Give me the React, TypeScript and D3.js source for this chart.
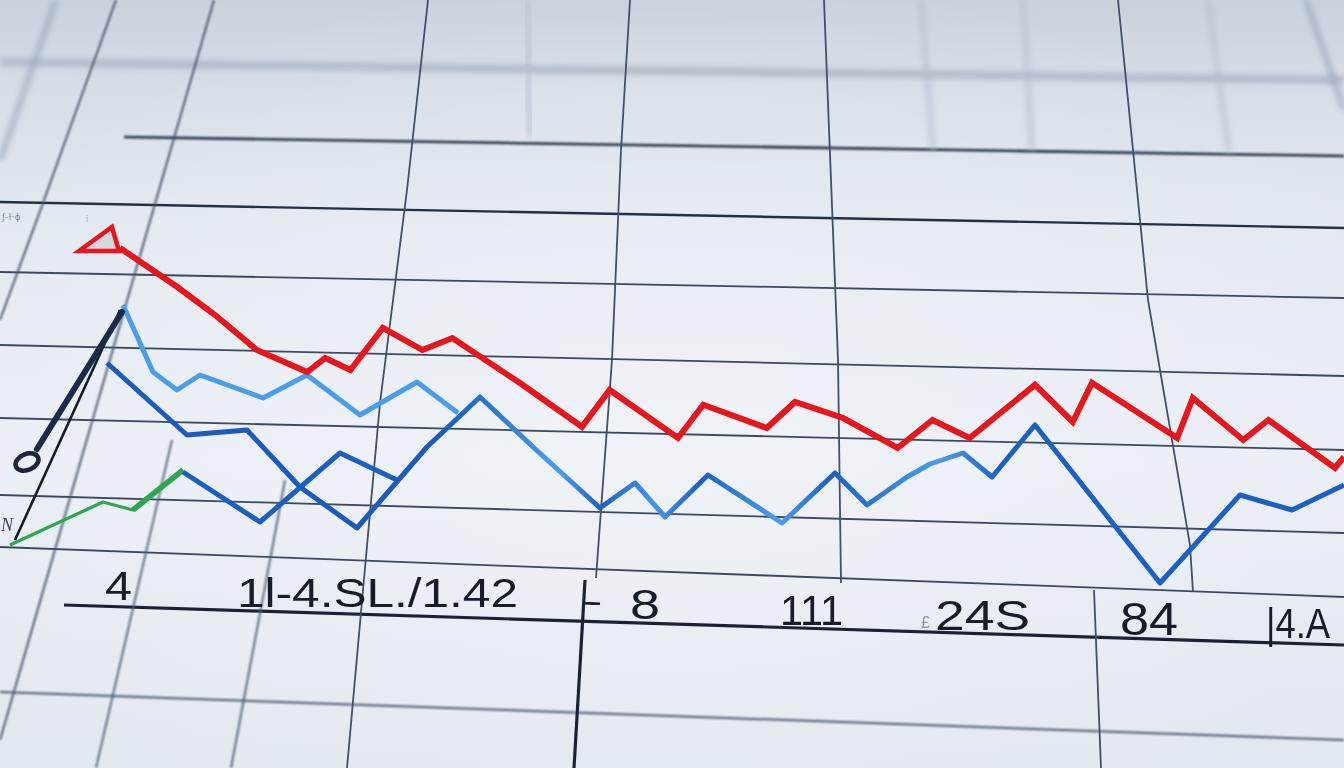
import React from "react";
import * as d3 from "d3";

// ---------- data (time index t, value v) ----------
const redT = [10, 14.75, 17.9, 21.4, 25.6, 27.1, 29.2, 31.9, 35.2, 37.7, 43.3, 48.5, 50.8, 56.5, 58.6, 63.9, 66.25, 70.25, 74.8, 77.7, 80.8, 86.25, 89.4, 91, 98.1, 99.4, 103.6, 105.7, 111.25, 112];
const redV = [88, 78.3, 71.3, 62.5, 57, 60.5, 57.5, 68, 62.5, 65.5, 54.3, 43.3, 52.5, 40.5, 48.8, 43, 49.5, 45.5, 38, 45, 40.5, 53.8, 44.5, 54.3, 40.5, 50.5, 40, 45, 33, 35.8];

const blueAT = [8.92, 15.58, 20.58, 25, 29.75, 35.58, 40, 44.42, 50, 52.92, 55.42, 59, 65.17, 69.58, 72.25, 75.58, 77.5, 80.25, 82.67, 86.25, 96.67, 103.33, 107.67, 112];
const blueAV = [59.25, 41.25, 42.5, 28.25, 18, 38.25, 50.75, 38.25, 23, 29.25, 20.75, 31.25, 19.25, 31.75, 23.75, 30.75, 34, 36.75, 30.75, 43.75, 4.25, 26.25, 22.5, 28.75];

const lightT = [10.25, 12.75, 14.75, 16.67, 21.92, 25.58, 30, 34.75, 38.17];
const lightV = [73.75, 57, 52.5, 56.25, 50.5, 56.25, 46.25, 54.5, 46.75];

const blueBT = [15.25, 21.67, 28.33, 33.08];
const blueBV = [32, 19.5, 36.75, 30];

const greenT = [0.83, 8.58, 11.08, 15.25];
const greenV = [13.75, 24.5, 22.5, 32.5];

const navyT = [3.08, 10.17];
const navyV = [37.75, 72];

const blackT = [1.25, 10];
const blackV = [15, 72.5];

const circleT = 2.25, circleV = 34.5;
const triT = 8.33, triV = 89.5;

const tickLabels = ["4", "1l-4.SL./1.42", "8", "111", "24S", "84", "|4.A"];

// ---------- layout (not data) ----------
const W = 1344, H = 768;
const labelLayout = [
  { x: 105, y: 600, size: 40, len: 27 },
  { x: 237, y: 607, size: 40, len: 281 },
  { x: 630, y: 619, size: 42, len: 30 },
  { x: 780, y: 625, size: 42, len: 63 },
  { x: 935, y: 630, size: 43, len: 95 },
  { x: 1120, y: 635, size: 46, len: 58 },
  { x: 1266, y: 638, size: 42, len: 64 },
];

const hLines = [
  { p: [[0, 62], [1344, 80]], w: 7, c: "#aab5c5", f: "bTop" },
  { p: [[124, 137], [1344, 156]], w: 2.6, c: "#223044", f: "b1" },
  { p: [[0, 202], [1344, 228]], w: 2.4, c: "#223044", f: "b05" },
  { p: [[0, 272], [1344, 298]], w: 1.8, c: "#3d4a62", f: "b05" },
  { p: [[0, 345], [1344, 376]], w: 1.8, c: "#3d4a62", f: "b05" },
  { p: [[0, 418], [1344, 450]], w: 1.8, c: "#3d4a62", f: "b05" },
  { p: [[0, 495], [1344, 533]], w: 1.8, c: "#3d4a62", f: "b05" },
  { p: [[0, 547], [1344, 597]], w: 1.8, c: "#3d4a62", f: "b05" },
  { p: [[64, 605], [1344, 645]], w: 3.2, c: "#1b2434", f: "b05" },
  { p: [[0, 692], [1344, 740]], w: 2, c: "#4a586f", f: "b1" },
];

const vLines = [
  { p: [[56, 0], [0, 160]], w: 4, c: "#97a4b7", f: "bTop" },
  { p: [[116, 0], [43, 203], [0, 320]], w: 1.9, c: "#46536a", f: "b1" },
  { p: [[214, 0], [159, 190], [0, 740]], w: 1.9, c: "#46536a", f: "b1" },
  { p: [[172, 440], [96, 768]], w: 1.8, c: "#505e74", f: "b1" },
  { p: [[285, 480], [231, 768]], w: 1.8, c: "#505e74", f: "b1" },
  { p: [[428, 0], [407, 190], [380, 403], [363, 590], [347, 768]], w: 1.8, c: "#435068", f: "b05" },
  { p: [[630, 0], [621, 150], [612, 360], [596, 578]], w: 1.8, c: "#435068", f: "b05" },
  { p: [[824, 0], [838, 360], [841, 583]], w: 1.8, c: "#435068", f: "b05" },
  { p: [[1118, 0], [1148, 300], [1190, 545], [1193, 592]], w: 1.8, c: "#435068", f: "b05" },
  { p: [[1306, 0], [1344, 110]], w: 4, c: "#97a4b7", f: "bTop" },
  { p: [[527, 0], [530, 137]], w: 4, c: "#b5c0cf", f: "bTop" },
  { p: [[921, 0], [933, 150]], w: 4, c: "#b5c0cf", f: "bTop" },
  { p: [[1023, 0], [1032, 150]], w: 4, c: "#b5c0cf", f: "bTop" },
  { p: [[1208, 0], [1229, 153]], w: 4, c: "#b5c0cf", f: "bTop" },
  { p: [[689, 577], [689, 630]], w: 1.8, c: "#36435a", f: "b05" },
  { p: [[893, 583], [893, 636]], w: 1.8, c: "#36435a", f: "b05" },
  { p: [[1094, 590], [1101, 768]], w: 1.8, c: "#435068", f: "b05" },
  { p: [[585, 580], [574, 768]], w: 3.2, c: "#1b2434", f: "b05" },
  { p: [[585, 603], [600, 604]], w: 3.2, c: "#1b2434", f: "b05" },
];

const xS = d3.scaleLinear().domain([0, 112]).range([0, W]);
const yS = d3.scaleLinear().domain([0, 100]).range([600, 200]);

const zip = (t: number[], v: number[]) => t.map((d, i) => ({ t: d, v: v[i] }));
const lineGen = d3
  .line<{ t: number; v: number }>()
  .x((d) => xS(d.t))
  .y((d) => yS(d.v));
const raw = d3.line();

export default function App() {
  const red = lineGen(zip(redT, redV)) || "";
  const blueA = lineGen(zip(blueAT, blueAV)) || "";
  const light = lineGen(zip(lightT, lightV)) || "";
  const blueB = lineGen(zip(blueBT, blueBV)) || "";
  const greenPts = zip(greenT, greenV);
  const green = lineGen(greenPts) || "";
  const greenEnd = lineGen(greenPts.slice(2)) || "";
  const navy = lineGen(zip(navyT, navyV)) || "";
  const black = lineGen(zip(blackT, blackV)) || "";
  const cx = xS(circleT), cy = yS(circleV);
  const tx = xS(triT), ty = yS(triV);

  const gradStops = [
    [0, "#1b5abb"], [440, "#1b5abb"], [560, "#4c9de8"], [600, "#1d60c2"], [655, "#4796e4"],
    [700, "#1d60c2"], [780, "#4c9de8"], [830, "#1d60c2"], [940, "#4c9de8"], [1000, "#1d60c2"], [1344, "#1d60c2"],
  ] as [number, string][];

  return (
    <svg width={W} height={H} style={{ position: "fixed", left: 0, top: 0, display: "block" }}>
      <defs>
        <linearGradient id="bg" x1="0" y1="0" x2="0" y2="1">
          <stop offset="0" stopColor="#c8d1de" />
          <stop offset="0.12" stopColor="#d6dee9" />
          <stop offset="0.3" stopColor="#e3e9f1" />
          <stop offset="0.6" stopColor="#eaeef5" />
          <stop offset="1" stopColor="#e2e8f0" />
        </linearGradient>
        <radialGradient id="glow" cx="0.5" cy="0.55" r="0.6">
          <stop offset="0" stopColor="#ffffff" stopOpacity="0.3" />
          <stop offset="1" stopColor="#ffffff" stopOpacity="0" />
        </radialGradient>
        <linearGradient id="blueGrad" gradientUnits="userSpaceOnUse" x1="0" y1="0" x2={W} y2="0">
          {gradStops.map(([o, c], i) => (
            <stop key={i} offset={o / W} stopColor={c} />
          ))}
        </linearGradient>
        <filter id="bTop" x="-50%" y="-50%" width="200%" height="200%">
          <feGaussianBlur stdDeviation="3" />
        </filter>
        <filter id="b1" x="-20%" y="-20%" width="140%" height="140%">
          <feGaussianBlur stdDeviation="0.9" />
        </filter>
        <filter id="b05" x="-20%" y="-20%" width="140%" height="140%">
          <feGaussianBlur stdDeviation="0.45" />
        </filter>
        <filter id="soft" x="-5%" y="-5%" width="110%" height="110%">
          <feGaussianBlur stdDeviation="0.6" />
        </filter>
      </defs>
      <rect width={W} height={H} fill="url(#bg)" />
      <rect width={W} height={H} fill="url(#glow)" />

      {/* grid */}
      {hLines.map((l, i) => (
        <path key={"h" + i} d={raw(l.p as [number, number][]) || ""} stroke={l.c} strokeWidth={l.w} fill="none" filter={`url(#${l.f})`} />
      ))}
      {vLines.map((l, i) => (
        <path key={"v" + i} d={raw(l.p as [number, number][]) || ""} stroke={l.c} strokeWidth={l.w} fill="none" filter={`url(#${l.f})`} />
      ))}

      {/* tiny top-left text */}
      <text x={2} y={220} fontSize={9} fill="#7d8a9c" fontFamily="DejaVu Sans" filter="url(#b05)">ʃ-ɫ·ɸ</text>
      <text x={86} y={222} fontSize={8} fill="#9aa5b4" fontFamily="DejaVu Sans" filter="url(#b05)">ⅰ</text>
      <text x={1} y={531} fontSize={18} fill="#3d4a60" fontFamily="Liberation Serif" fontStyle="italic" filter="url(#b05)">N</text>

      {/* series */}
      <g filter="url(#soft)" fill="none">
        <path d={black} stroke="#131b27" strokeWidth={2.6} />
        <path d={green} stroke="#2fa64f" strokeWidth={3.2} strokeLinejoin="round" />
        <path d={greenEnd} stroke="#2fa64f" strokeWidth={5.5} strokeLinejoin="round" />
        <path d={light} stroke="#4b9de8" strokeWidth={5} strokeLinejoin="round" />
        <path d={blueB} stroke="#1d5ec0" strokeWidth={5} strokeLinejoin="round" />
        <path d={blueA} stroke="url(#blueGrad)" strokeWidth={5} strokeLinejoin="round" />
        <path d={navy} stroke="#1b2a4a" strokeWidth={6} strokeLinecap="round" />
        <ellipse cx={cx} cy={cy} rx={12} ry={8} stroke="#1b2638" strokeWidth={4.5} transform={`rotate(-22 ${cx} ${cy})`} />
        <path d={red} stroke="#e5121b" strokeWidth={6} strokeLinejoin="miter" />
        <path
          d={`M${tx - 21},${ty + 9} L${tx + 12},${ty - 15} L${tx + 19},${ty + 9} Z`}
          stroke="#e5121b"
          strokeWidth={4.5}
          fill="#d4d8de"
          strokeLinejoin="miter"
        />
      </g>

      {/* tick labels */}
      <g fill="#161d29" fontFamily="Liberation Sans, Arial, sans-serif" filter="url(#b05)">
        {tickLabels.map((t, i) => {
          const L = labelLayout[i];
          return (
            <text key={i} x={L.x} y={L.y} fontSize={L.size} textLength={L.len} lengthAdjust="spacingAndGlyphs">
              {t}
            </text>
          );
        })}
        <text x={921} y={628} fontSize={16} fill="#8a94a3">£</text>
      </g>
    </svg>
  );
}
